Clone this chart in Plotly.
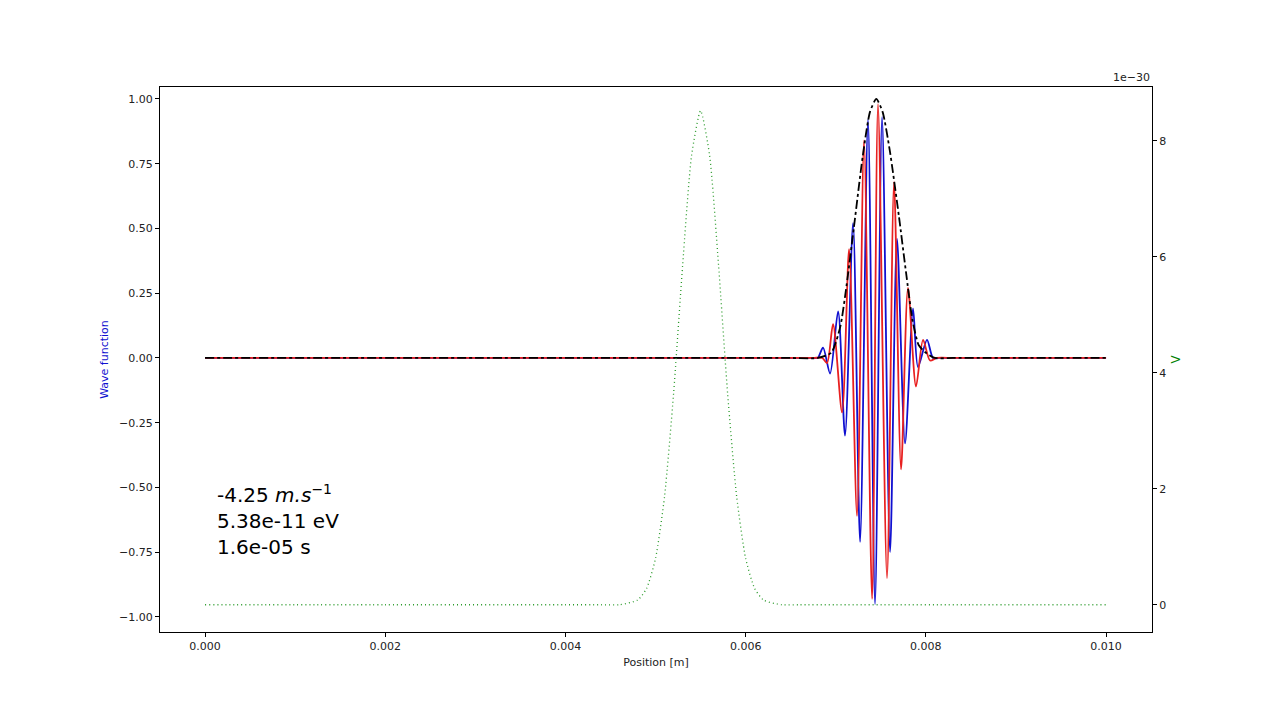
import plotly.graph_objects as go

blue_x = [0, 0.003, 0.006, 0.0065, 0.00675, 0.00680, 0.006859, 0.006937, 0.007026, 0.007103, 0.007192, 0.007270, 0.007358, 0.007436,
          0.007514, 0.007603, 0.007680, 0.007769, 0.007858, 0.007913, 0.008013, 0.008080, 0.00815, 0.0083, 0.0086, 0.009, 0.010]
blue_y = [0, 0, 0, 0, 0, 0.0, 0.04, -0.06, 0.18, -0.30, 0.52, -0.71, 0.92, -0.95,
          0.93, -0.75, 0.46, -0.33, 0.19, -0.035, 0.07, 0.0, 0.0, 0, 0, 0, 0]
red_x = [0, 0.003, 0.006, 0.0065, 0.00675, 0.00685, 0.006903, 0.006970, 0.007070, 0.007148, 0.007236, 0.007314, 0.007403, 0.007469,
         0.007569, 0.007647, 0.007725, 0.007802, 0.007891, 0.007969, 0.008047, 0.00812, 0.0083, 0.0086, 0.009, 0.010]
red_y = [0, 0, 0, 0, 0, 0.0, -0.02, 0.13, -0.21, 0.42, -0.61, 0.84, -0.93, 0.98,
         -0.85, 0.68, -0.43, 0.27, -0.11, 0.07, -0.01, 0.0, 0, 0, 0, 0]
env_x = [0, 0.003, 0.006, 0.0065, 0.00680, 0.00695, 0.00705, 0.00712, 0.00720, 0.00730, 0.00738, 0.00745, 0.00752, 0.00760,
         0.00770, 0.00778, 0.00785, 0.00792, 0.00800, 0.00810, 0.0083, 0.0086, 0.009, 0.010]
env_y = [0, 0, 0, 0, 0, 0.02, 0.12, 0.28, 0.50, 0.78, 0.95, 1.0, 0.95, 0.80, 0.55, 0.33, 0.15, 0.05, 0.02, 0, 0, 0, 0, 0]
pot_x = [0, 0.002, 0.004, 0.0044, 0.0046, 0.0048, 0.0049, 0.0050, 0.0051, 0.0052, 0.0053, 0.0054, 0.0055,
         0.0056, 0.0057, 0.0058, 0.0059, 0.0060, 0.0061, 0.0062, 0.0064, 0.0066, 0.007, 0.0085, 0.010]
pot_y = [0, 0, 0, 0, 0, 0.08, 0.28, 0.80, 1.87, 3.64, 5.84, 7.75, 8.52,
         7.75, 5.84, 3.64, 1.87, 0.80, 0.28, 0.08, 0, 0, 0, 0, 0]

fig = go.Figure()
fig.add_trace(go.Scatter(x=pot_x, y=pot_y, yaxis="y2", mode="lines",
                         line=dict(color="#2a9a2a", dash="1px,3px", width=1.3, shape="spline", smoothing=0.6)))
fig.add_trace(go.Scatter(x=blue_x, y=blue_y, mode="lines",
                         line=dict(color="#1010d0", width=1.8, shape="spline", smoothing=0.8)))
fig.add_trace(go.Scatter(x=red_x, y=red_y, mode="lines",
                         line=dict(color="#e82020", width=1.8, shape="spline", smoothing=0.8)))
fig.add_trace(go.Scatter(x=env_x, y=env_y, mode="lines",
                         line=dict(color="black", dash="dashdot", width=1.8, shape="spline", smoothing=0.6)))

ax = dict(showgrid=False, zeroline=False, showline=True, linecolor="black",
          ticks="outside", ticklen=4, tickcolor="black", tickfont=dict(size=11, color="#222"))
fig.update_layout(
    width=1280, height=720, showlegend=False,
    paper_bgcolor="white", plot_bgcolor="white",
    margin=dict(l=152, r=136, t=79, b=96),
    font=dict(family="DejaVu Sans", size=11, color="#222"),
    xaxis=dict(**ax, range=[-0.0005, 0.01051], tickvals=[0, 0.002, 0.004, 0.006, 0.008, 0.010],
               ticktext=["0.000", "0.002", "0.004", "0.006", "0.008", "0.010"],
               title=dict(text="Position [m]", font=dict(size=11), standoff=6), mirror=True),
    yaxis=dict(**ax, range=[-1.058, 1.046], tickvals=[-1, -0.75, -0.5, -0.25, 0, 0.25, 0.5, 0.75, 1],
               ticktext=["\u22121.00", "\u22120.75", "\u22120.50", "\u22120.25", "0.00", "0.25", "0.50", "0.75", "1.00"],
               title=dict(text="Wave function", font=dict(size=11, color="#1010d0"), standoff=8)),
    yaxis2=dict(**ax, overlaying="y", side="right", range=[-0.47, 8.93], tickvals=[0, 2, 4, 6, 8],
                title=dict(text="V", font=dict(size=12, color="green"), standoff=6)),
    annotations=[
        dict(text="-4.25 <i>m.s</i><sup>\u22121</sup><br>5.38e-11 eV<br>1.6e-05 s", xref="paper", yref="paper",
             x=0.055, y=0.28, xanchor="left", yanchor="top", showarrow=False, align="left",
             font=dict(size=20, color="black")),
        dict(text="1e\u221230", xref="paper", yref="paper", x=1.0, y=1.0, xanchor="right", yanchor="bottom",
             showarrow=False, font=dict(size=11), yshift=1),
    ],
)
fig.write_html("out.html")
